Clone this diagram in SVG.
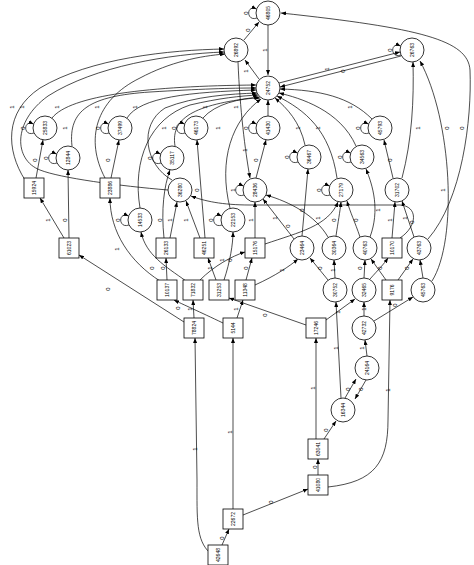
<svg xmlns="http://www.w3.org/2000/svg" width="474" height="565" viewBox="0 0 474 565">
<style>
.n circle,.n rect{fill:#fff;stroke:#000;stroke-width:0.8}
.n text{font-family:"Liberation Sans",Arial,sans-serif;font-size:5px;text-anchor:middle;dominant-baseline:central}
.e path{fill:none;stroke:#000;stroke-width:0.7;marker-end:url(#ah)}
.l text{font-family:"Liberation Sans",Arial,sans-serif;font-size:6px;text-anchor:middle;dominant-baseline:central}
</style>
<defs>
<marker id="ah" markerWidth="5" markerHeight="4" refX="5" refY="2" orient="auto" markerUnits="userSpaceOnUse"><path d="M0,0 L5,2 L0,4 z" fill="#000"/></marker>
</defs>
<g id="edges" class="e">
<!-- self loops -->
<path d="M257,18 C246,22 246,4 256.5,9"/>
<path d="M401,55 C390,59 390,41 400.5,46"/>
<path d="M34,133 C23,137 23,119 33.5,124"/>
<path d="M109,133 C98,137 98,119 108.5,124"/>
<path d="M185,133 C174,137 174,119 184.5,124"/>
<path d="M257,133 C246,137 246,119 256.5,124"/>
<path d="M369,133 C358,137 358,119 368.5,124"/>
<path d="M57,163 C46,167 46,149 56.5,154"/>
<path d="M161,163 C150,167 150,149 160.5,154"/>
<path d="M298,162 C287,166 287,148 297.5,153"/>
<path d="M351,162 C340,166 340,148 350.5,153"/>
<path d="M244,195 C233,199 233,181 243.5,186"/>
<path d="M330,195 C319,199 319,181 329.5,186"/>
<path d="M129,225 C118,229 118,211 128.5,216"/>
<path d="M222,225 C211,229 211,211 221.5,216"/>
<!-- top -->
<path d="M244,40 L259,22"/>
<path d="M268,25 L268,75"/>
<path d="M259,79 L245,60"/>
<path d="M279,83 L400,52"/>
<path d="M401,56 L280,87"/>
<path d="M428,239 C462,200 472,120 470,70 C468,40 420,28 281,13"/>
<!-- into 26892 -->
<path d="M25,180 C6,150 4,112 40,88 C90,58 170,50 224,49"/>
<path d="M168,190 C120,186 60,178 40,170 C14,160 12,122 48,96 C95,66 170,54 224,52"/>
<path d="M105,178 C85,140 95,100 140,78 C170,62 200,56 225,54"/>
<!-- into 24752 -->
<path d="M52,118 C70,95 150,86 256,85"/>
<path d="M72,146 C68,110 90,96 150,92 C200,89 230,88 256,88"/>
<path d="M127,118 C140,97 190,92 256,90"/>
<path d="M172,180 C145,165 138,125 165,108 C195,96 230,94 257,93"/>
<path d="M140,208 C132,160 150,118 190,105 C220,98 240,96 258,95"/>
<path d="M175,146 C170,115 200,104 259,97"/>
<path d="M203,118 C215,104 240,98 260,98"/>
<path d="M230,208 C218,160 232,120 261,99"/>
<path d="M268,116 L268,100"/>
<path d="M305,145 C300,122 287,108 275,98"/>
<path d="M356,146 C340,110 300,98 279,93"/>
<path d="M337,178 C330,130 305,110 277,96"/>
<path d="M372,119 C350,97 320,90 280,89"/>
<path d="M238,62 C240,110 245,150 250,178"/>
<!-- middle -->
<path d="M256,178 L266,140"/>
<path d="M302,236 L308,169"/>
<path d="M294,239 L263,199"/>
<path d="M328,237 C315,215 290,202 266,195"/>
<path d="M336,236 C338,222 340,212 341,202"/>
<path d="M360,237 C355,222 350,212 347,201"/>
<path d="M370,237 C380,210 373,186 366,169"/>
<path d="M255,238 L255,202"/>
<path d="M265,244 C300,232 328,226 338,202"/>
<path d="M392,238 L395,202"/>
<path d="M400,238 C418,226 418,206 400,205 L250,205 C222,205 204,201 191,196"/>
<path d="M414,237 L402,201"/>
<path d="M393,178 L384,140"/>
<path d="M402,178 C412,140 414,100 413,62"/>
<path d="M432,281 C458,240 452,120 420,61"/>
<!-- boxes row 248 -->
<path d="M64,238 L40,198"/>
<path d="M69,238 L68,170"/>
<path d="M36,178 L43,140"/>
<path d="M111,178 L119,140"/>
<path d="M164,238 C161,210 164,186 170,170"/>
<path d="M170,238 L177,202"/>
<path d="M200,238 L186,201"/>
<path d="M205,238 L197,140"/>
<!-- row 290 -->
<path d="M160,281 C130,262 110,232 110,198"/>
<path d="M167,280 L166,258"/>
<path d="M186,281 C165,266 146,255 141,232"/>
<path d="M200,280 C214,266 232,256 245,252"/>
<path d="M216,280 L208,258"/>
<path d="M224,280 C230,262 233,244 233,232"/>
<path d="M246,280 L252,258"/>
<path d="M255,285 C275,276 290,266 298,259"/>
<path d="M328,280 L310,258"/>
<path d="M335,278 L334,260"/>
<path d="M364,278 L365,260"/>
<path d="M370,279 C378,270 384,264 388,258"/>
<path d="M398,280 L413,259"/>
<path d="M386,280 L371,259"/>
<path d="M423,278 L420,260"/>
<!-- lower -->
<path d="M364,316 L364,302"/>
<path d="M374,321 L413,297"/>
<path d="M367,356 L365,340"/>
<path d="M345,398 L356,379"/>
<path d="M366,380 L355,399"/>
<path d="M341,398 L336,302"/>
<path d="M324,439 L336,421"/>
<path d="M316,439 L316,338"/>
<path d="M318,475 L318,459"/>
<path d="M328,487 C375,482 388,462 388,420 L390,300"/>
<path d="M243,515 L308,489"/>
<path d="M233,509 L233,338"/>
<path d="M222,545 L229,529"/>
<path d="M210,553 C196,540 197,520 197,480 L195,338"/>
<path d="M184,322 L79,255"/>
<path d="M194,318 L193,300"/>
<path d="M223,323 C200,312 182,304 174,300"/>
<path d="M237,318 L243,300"/>
<path d="M306,325 L229,298"/>
<path d="M326,320 L355,299"/>
</g>
<g class="l">
<text transform="translate(246,13) rotate(-90)">0</text>
<text transform="translate(390,50) rotate(-90)">0</text>
<text transform="translate(23,128) rotate(-90)">0</text>
<text transform="translate(98,128) rotate(-90)">0</text>
<text transform="translate(174,128) rotate(-90)">0</text>
<text transform="translate(246,128) rotate(-90)">0</text>
<text transform="translate(358,128) rotate(-90)">0</text>
<text transform="translate(46,158) rotate(-90)">0</text>
<text transform="translate(150,158) rotate(-90)">0</text>
<text transform="translate(287,157) rotate(-90)">0</text>
<text transform="translate(340,157) rotate(-90)">0</text>
<text transform="translate(233,190) rotate(-90)">1</text>
<text transform="translate(319,190) rotate(-90)">0</text>
<text transform="translate(118,220) rotate(-90)">0</text>
<text transform="translate(211,220) rotate(-90)">0</text>
<text transform="translate(248,30) rotate(-90)">0</text>
<text transform="translate(265,50) rotate(-90)">1</text>
<text transform="translate(246,71) rotate(-90)">1</text>
<text transform="translate(327,69) rotate(-90)">1</text>
<text transform="translate(343,71) rotate(-90)">0</text>
<text transform="translate(462,128) rotate(-90)">0</text>
<text transform="translate(12,107) rotate(-90)">1</text>
<text transform="translate(22,107) rotate(-90)">1</text>
<text transform="translate(97,107) rotate(-90)">1</text>
<text transform="translate(57,107) rotate(-90)">1</text>
<text transform="translate(65,128) rotate(-90)">1</text>
<text transform="translate(135,107) rotate(-90)">1</text>
<text transform="translate(164,128) rotate(-90)">1</text>
<text transform="translate(205,107) rotate(-90)">1</text>
<text transform="translate(218,128) rotate(-90)">1</text>
<text transform="translate(236,107) rotate(-90)">1</text>
<text transform="translate(277,128) rotate(-90)">1</text>
<text transform="translate(298,128) rotate(-90)">1</text>
<text transform="translate(318,128) rotate(-90)">1</text>
<text transform="translate(350,107) rotate(-90)">1</text>
<text transform="translate(245,150) rotate(-90)">1</text>
<text transform="translate(256,160) rotate(-90)">0</text>
<text transform="translate(302,210) rotate(-90)">0</text>
<text transform="translate(275,218) rotate(-90)">1</text>
<text transform="translate(318,218) rotate(-90)">1</text>
<text transform="translate(334,220) rotate(-90)">0</text>
<text transform="translate(356,220) rotate(-90)">0</text>
<text transform="translate(378,210) rotate(-90)">1</text>
<text transform="translate(251,220) rotate(-90)">1</text>
<text transform="translate(288,226) rotate(-90)">0</text>
<text transform="translate(390,220) rotate(-90)">1</text>
<text transform="translate(405,218) rotate(-90)">1</text>
<text transform="translate(412,222) rotate(-90)">0</text>
<text transform="translate(390,160) rotate(-90)">0</text>
<text transform="translate(418,128) rotate(-90)">1</text>
<text transform="translate(447,128) rotate(-90)">0</text>
<text transform="translate(443,190) rotate(-90)">1</text>
<text transform="translate(48,220) rotate(-90)">1</text>
<text transform="translate(65,220) rotate(-90)">0</text>
<text transform="translate(35,160) rotate(-90)">0</text>
<text transform="translate(108,160) rotate(-90)">0</text>
<text transform="translate(160,220) rotate(-90)">0</text>
<text transform="translate(170,220) rotate(-90)">1</text>
<text transform="translate(186,220) rotate(-90)">1</text>
<text transform="translate(197,190) rotate(-90)">0</text>
<text transform="translate(117,249) rotate(-90)">1</text>
<text transform="translate(163,268) rotate(-90)">0</text>
<text transform="translate(152,268) rotate(-90)">0</text>
<text transform="translate(222,260) rotate(-90)">1</text>
<text transform="translate(210,268) rotate(-90)">1</text>
<text transform="translate(230,260) rotate(-90)">0</text>
<text transform="translate(246,268) rotate(-90)">0</text>
<text transform="translate(282,270) rotate(-90)">1</text>
<text transform="translate(320,268) rotate(-90)">0</text>
<text transform="translate(333,270) rotate(-90)">1</text>
<text transform="translate(360,268) rotate(-90)">0</text>
<text transform="translate(380,268) rotate(-90)">0</text>
<text transform="translate(407,268) rotate(-90)">0</text>
<text transform="translate(364,309) rotate(-90)">1</text>
<text transform="translate(395,305) rotate(-90)">0</text>
<text transform="translate(362,348) rotate(-90)">1</text>
<text transform="translate(348,389) rotate(-90)">0</text>
<text transform="translate(361,389) rotate(-90)">0</text>
<text transform="translate(336,348) rotate(-90)">1</text>
<text transform="translate(326,430) rotate(-90)">0</text>
<text transform="translate(313,388) rotate(-90)">1</text>
<text transform="translate(315,467) rotate(-90)">0</text>
<text transform="translate(388,390) rotate(-90)">1</text>
<text transform="translate(271,502) rotate(-90)">0</text>
<text transform="translate(230,432) rotate(-90)">1</text>
<text transform="translate(222,538) rotate(-90)">0</text>
<text transform="translate(195,449) rotate(-90)">1</text>
<text transform="translate(108,289) rotate(-90)">0</text>
<text transform="translate(190,309) rotate(-90)">1</text>
<text transform="translate(178,308) rotate(-90)">0</text>
<text transform="translate(236,309) rotate(-90)">1</text>
<text transform="translate(265,315) rotate(-90)">0</text>
<text transform="translate(338,312) rotate(-90)">1</text>
</g>
<g id="n46805" class="n"><circle cx="268" cy="13" r="12"/><text transform="translate(268,13) rotate(-90)">46805</text></g>
<g id="n26892" class="n"><circle cx="236" cy="50" r="12"/><text transform="translate(236,50) rotate(-90)">26892</text></g>
<g id="n24752" class="n"><circle cx="268" cy="88" r="12"/><text transform="translate(268,88) rotate(-90)">24752</text></g>
<g id="n26763" class="n"><circle cx="412" cy="50" r="12"/><text transform="translate(412,50) rotate(-90)">26763</text></g>
<g id="n25833" class="n"><circle cx="45" cy="128" r="12"/><text transform="translate(45,128) rotate(-90)">25833</text></g>
<g id="n37499" class="n"><circle cx="120" cy="128" r="12"/><text transform="translate(120,128) rotate(-90)">37499</text></g>
<g id="n46173" class="n"><circle cx="196" cy="128" r="12"/><text transform="translate(196,128) rotate(-90)">46173</text></g>
<g id="n41430" class="n"><circle cx="268" cy="128" r="12"/><text transform="translate(268,128) rotate(-90)">41430</text></g>
<g id="n45793" class="n"><circle cx="380" cy="128" r="12"/><text transform="translate(380,128) rotate(-90)">45793</text></g>
<g id="n12844" class="n"><circle cx="68" cy="158" r="12"/><text transform="translate(68,158) rotate(-90)">12844</text></g>
<g id="n35117" class="n"><circle cx="172" cy="158" r="12"/><text transform="translate(172,158) rotate(-90)">35117</text></g>
<g id="n36467" class="n"><circle cx="309" cy="157" r="12"/><text transform="translate(309,157) rotate(-90)">36467</text></g>
<g id="n34563" class="n"><circle cx="362" cy="157" r="12"/><text transform="translate(362,157) rotate(-90)">34563</text></g>
<g id="n36280" class="n"><circle cx="180" cy="190" r="12"/><text transform="translate(180,190) rotate(-90)">36280</text></g>
<g id="n28436" class="n"><circle cx="255" cy="190" r="12"/><text transform="translate(255,190) rotate(-90)">28436</text></g>
<g id="n27179" class="n"><circle cx="341" cy="190" r="12"/><text transform="translate(341,190) rotate(-90)">27179</text></g>
<g id="n31702" class="n"><circle cx="397" cy="190" r="12"/><text transform="translate(397,190) rotate(-90)">31702</text></g>
<g id="n14533" class="n"><circle cx="140" cy="220" r="12"/><text transform="translate(140,220) rotate(-90)">14533</text></g>
<g id="n22153" class="n"><circle cx="233" cy="220" r="12"/><text transform="translate(233,220) rotate(-90)">22153</text></g>
<g id="n23464" class="n"><circle cx="302" cy="248" r="12"/><text transform="translate(302,248) rotate(-90)">23464</text></g>
<g id="n30364" class="n"><circle cx="334" cy="248" r="12"/><text transform="translate(334,248) rotate(-90)">30364</text></g>
<g id="n40763" class="n"><circle cx="365" cy="248" r="12"/><text transform="translate(365,248) rotate(-90)">40763</text></g>
<g id="n43763" class="n"><circle cx="419" cy="248" r="12"/><text transform="translate(419,248) rotate(-90)">43763</text></g>
<g id="n30752" class="n"><circle cx="335" cy="290" r="12"/><text transform="translate(335,290) rotate(-90)">30752</text></g>
<g id="n32465" class="n"><circle cx="364" cy="290" r="12"/><text transform="translate(364,290) rotate(-90)">32465</text></g>
<g id="n45763" class="n"><circle cx="423" cy="290" r="12"/><text transform="translate(423,290) rotate(-90)">45763</text></g>
<g id="n42732" class="n"><circle cx="364" cy="328" r="12"/><text transform="translate(364,328) rotate(-90)">42732</text></g>
<g id="n24164" class="n"><circle cx="367" cy="368" r="12"/><text transform="translate(367,368) rotate(-90)">24164</text></g>
<g id="n16344" class="n"><circle cx="343" cy="410" r="12"/><text transform="translate(343,410) rotate(-90)">16344</text></g>
<g id="b15924" class="n"><rect x="24" y="178" width="20" height="20"/><text transform="translate(34,188) rotate(-90)">15924</text></g>
<g id="b23886" class="n"><rect x="100" y="178" width="20" height="20"/><text transform="translate(110,188) rotate(-90)">23886</text></g>
<g id="b61023" class="n"><rect x="59" y="238" width="20" height="20"/><text transform="translate(69,248) rotate(-90)">61023</text></g>
<g id="b26133" class="n"><rect x="156" y="238" width="20" height="20"/><text transform="translate(166,248) rotate(-90)">26133</text></g>
<g id="b46251" class="n"><rect x="194" y="238" width="20" height="20"/><text transform="translate(204,248) rotate(-90)">46251</text></g>
<g id="b15176" class="n"><rect x="245" y="238" width="20" height="20"/><text transform="translate(255,248) rotate(-90)">15176</text></g>
<g id="b10170" class="n"><rect x="382" y="238" width="20" height="20"/><text transform="translate(392,248) rotate(-90)">10170</text></g>
<g id="b10137" class="n"><rect x="157" y="280" width="20" height="20"/><text transform="translate(167,290) rotate(-90)">10137</text></g>
<g id="b71832" class="n"><rect x="183" y="280" width="20" height="20"/><text transform="translate(193,290) rotate(-90)">71832</text></g>
<g id="b31253" class="n"><rect x="209" y="280" width="20" height="20"/><text transform="translate(219,290) rotate(-90)">31253</text></g>
<g id="b11348" class="n"><rect x="235" y="280" width="20" height="20"/><text transform="translate(245,290) rotate(-90)">11348</text></g>
<g id="b9176" class="n"><rect x="382" y="280" width="20" height="20"/><text transform="translate(392,290) rotate(-90)">9176</text></g>
<g id="b78824" class="n"><rect x="184" y="318" width="20" height="20"/><text transform="translate(194,328) rotate(-90)">78824</text></g>
<g id="b5144" class="n"><rect x="223" y="318" width="20" height="20"/><text transform="translate(233,328) rotate(-90)">5144</text></g>
<g id="b17246" class="n"><rect x="306" y="318" width="20" height="20"/><text transform="translate(316,328) rotate(-90)">17246</text></g>
<g id="b63041" class="n"><rect x="308" y="439" width="20" height="20"/><text transform="translate(318,449) rotate(-90)">63041</text></g>
<g id="b41080" class="n"><rect x="308" y="475" width="20" height="20"/><text transform="translate(318,485) rotate(-90)">41080</text></g>
<g id="b22672" class="n"><rect x="223" y="509" width="20" height="20"/><text transform="translate(233,519) rotate(-90)">22672</text></g>
<g id="b42648" class="n"><rect x="208" y="545" width="20" height="20"/><text transform="translate(218,555) rotate(-90)">42648</text></g>
</svg>
